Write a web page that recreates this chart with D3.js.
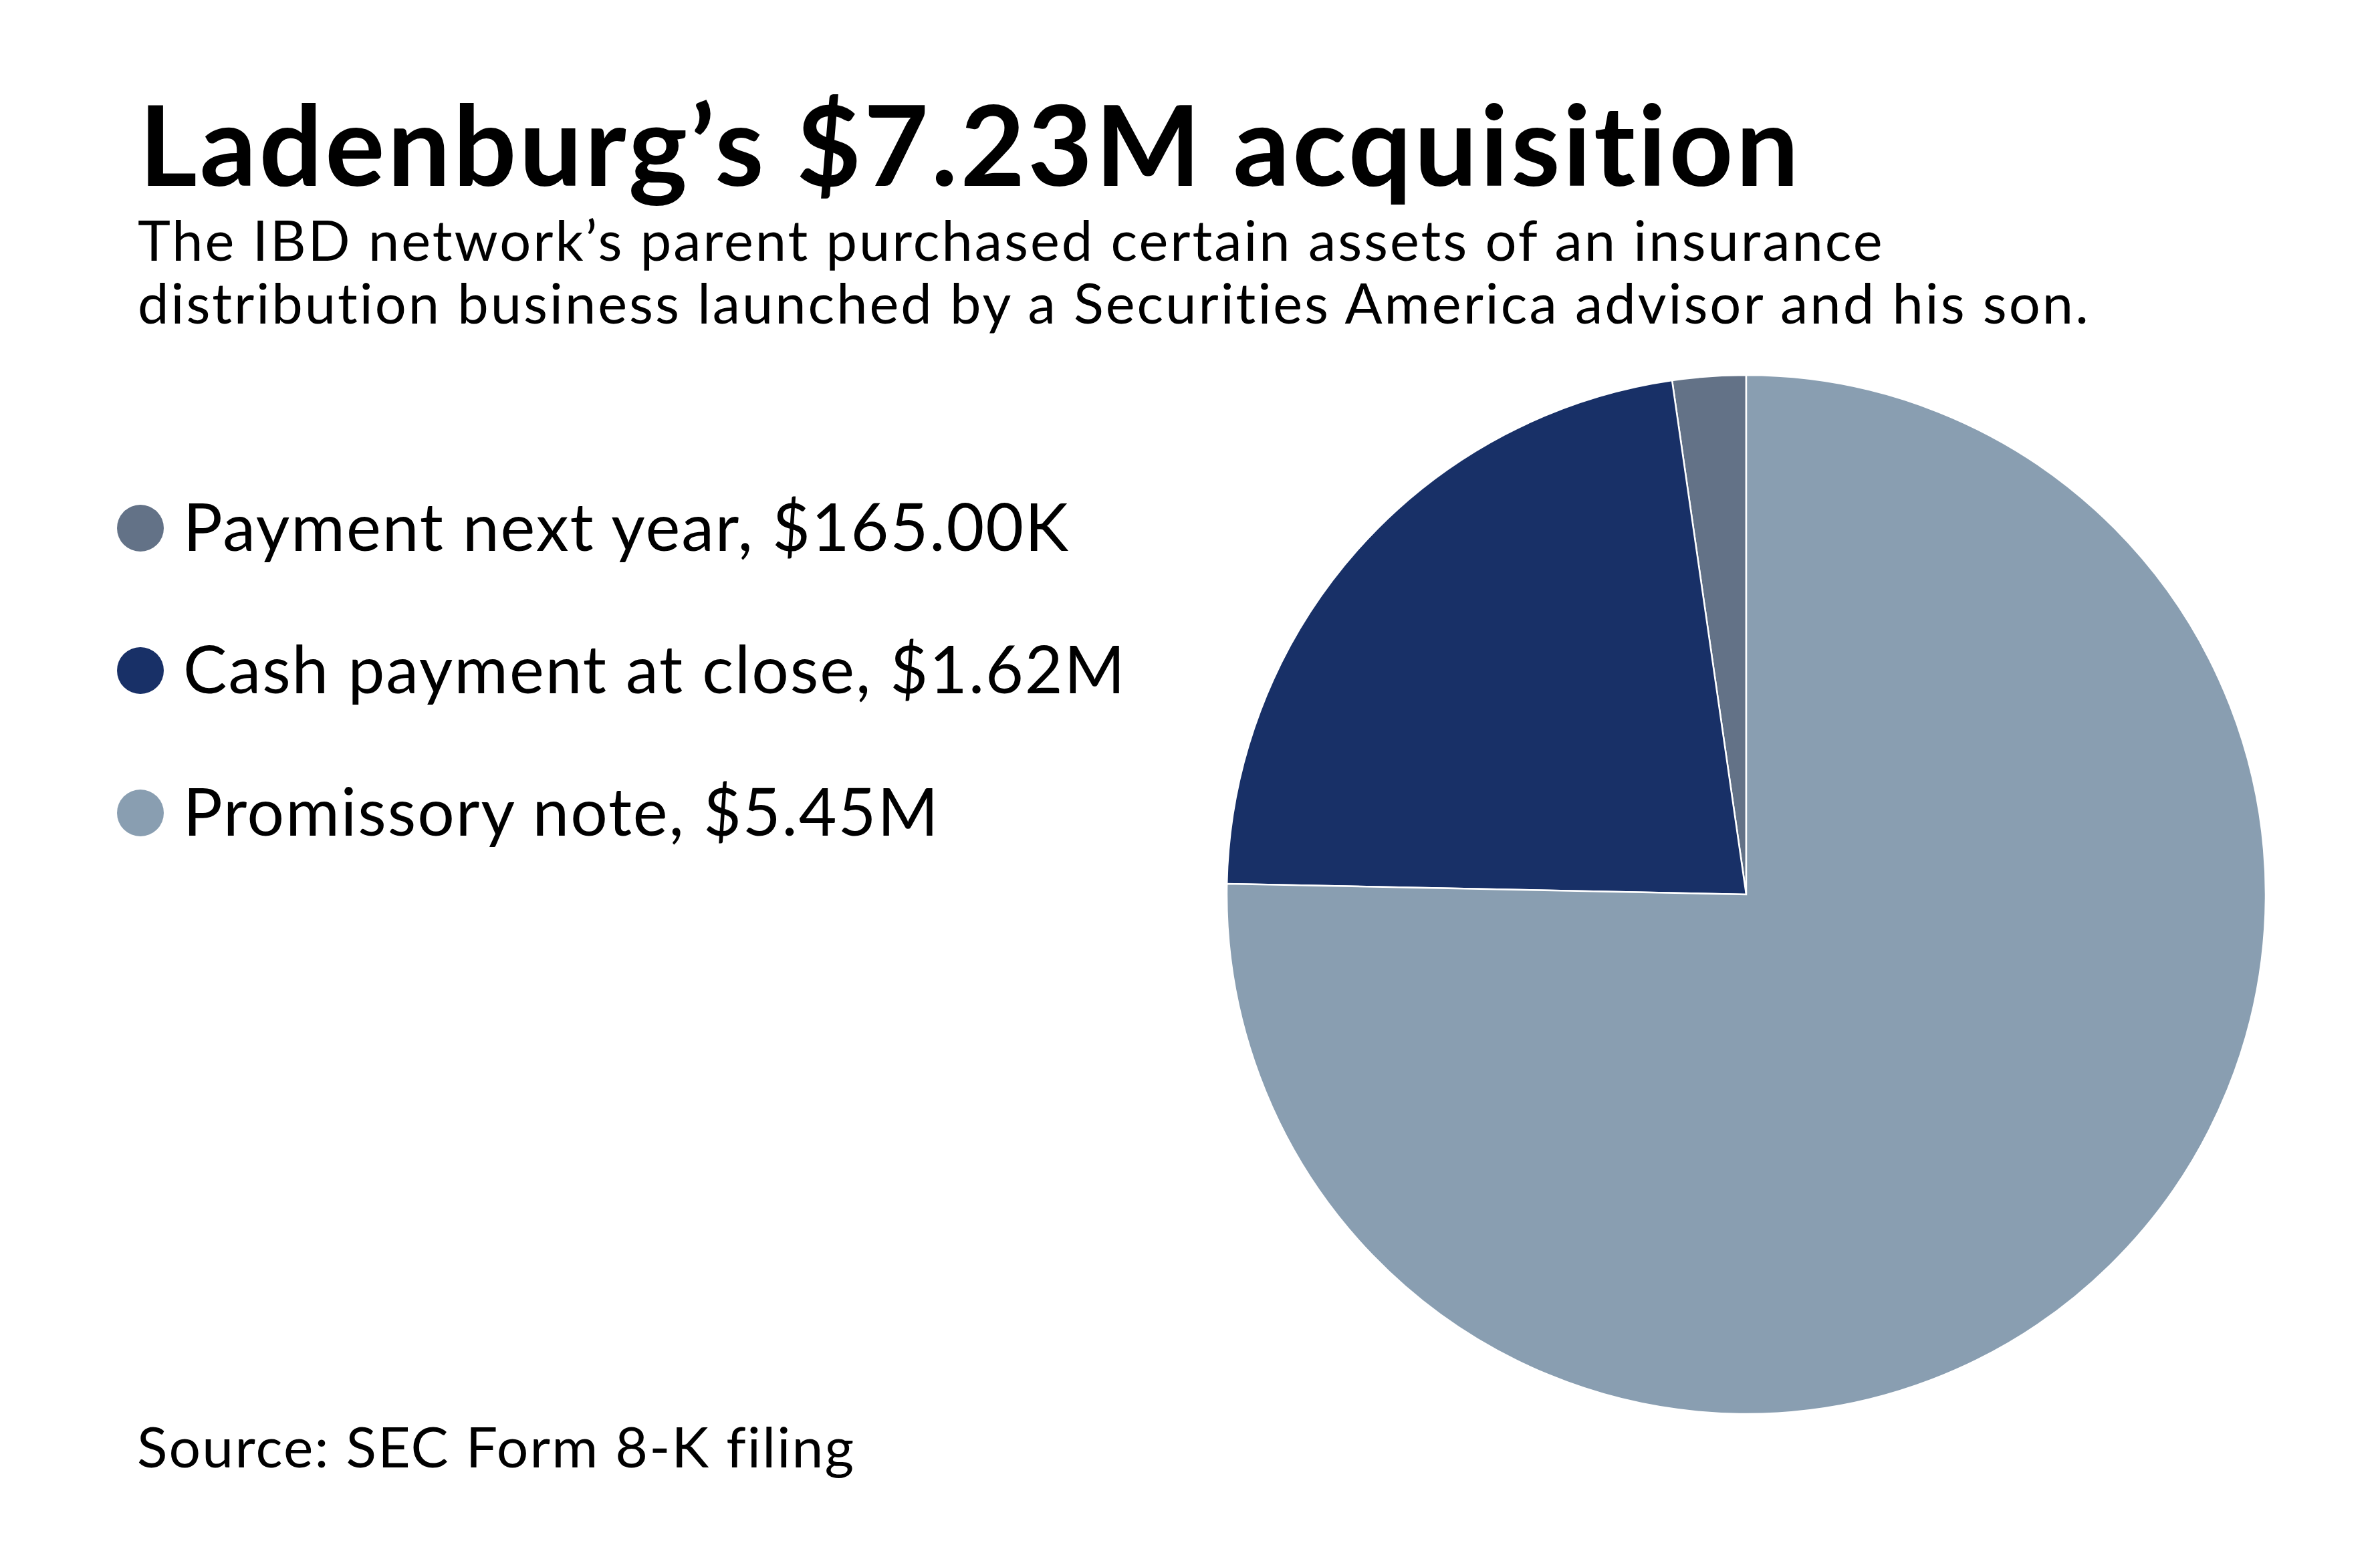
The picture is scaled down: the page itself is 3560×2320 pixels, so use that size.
<!DOCTYPE html>
<html>
<head>
<meta charset="utf-8">
<script src="https://cdn.jsdelivr.net/npm/d3@7"></script>
<style>
  html, body { margin: 0; padding: 0; background: #fff; }
  svg { display: block; font-family: Lato, "Open Sans", sans-serif; }
</style>
</head>
<body>
<div id="chart"></div>
<script>
var categories = ["Payment next year", "Cash payment at close", "Promissory note"];
var values = [0.165, 1.62, 5.45];            // $ millions
var valueLabels = ["$165.00K", "$1.62M", "$5.45M"];
var colors = ["#637287", "#183067", "#899eb1"];

var title = "Ladenburg\u2019s $7.23M acquisition";
var subtitle = [
    "The IBD network\u2019s parent purchased certain assets of an insurance",
    "distribution business launched by a Securities America advisor and his son."
];
var source = "Source: SEC Form 8-K filing";

var width = 3560, height = 2320;

var svg = d3.select("#chart").append("svg")
    .attr("width", width)
    .attr("height", height);

svg.append("text")
    .attr("x", 208)
    .attr("y", 278)
    .attr("font-size", 167)
    .attr("font-weight", 700)
    .attr("letter-spacing", 4)
    .attr("fill", "#000")
    .text(title);

svg.selectAll(".sub")
    .data(subtitle)
    .enter()
    .append("text")
    .attr("class", "sub")
    .attr("x", 206)
    .attr("y", (d, i) => 390 + i * 94)
    .attr("font-size", 83)
    .attr("letter-spacing", 3)
    .attr("fill", "#000")
    .text(d => d);

// legend
var legend = svg.selectAll(".legend")
    .data(categories)
    .enter()
    .append("g")
    .attr("class", "legend")
    .attr("transform", (d, i) => "translate(0," + (790 + i * 213) + ")");

legend.append("circle")
    .attr("cx", 210)
    .attr("cy", 0)
    .attr("r", 35)
    .attr("fill", (d, i) => colors[i]);

legend.append("text")
    .attr("x", 274)
    .attr("y", 34)
    .attr("font-size", 98)
    .attr("letter-spacing", 2)
    .attr("fill", "#000")
    .text((d, i) => d + ", " + valueLabels[i]);

svg.append("text")
    .attr("x", 205)
    .attr("y", 2195)
    .attr("font-size", 84)
    .attr("letter-spacing", 2.2)
    .attr("fill", "#000")
    .text(source);

// pie, drawn anticlockwise from 12 o'clock so the largest slice runs clockwise
var cx = 2612, cy = 1338, radius = 777;

var pie = d3.pie()
    .sort(null)
    .startAngle(2 * Math.PI)
    .endAngle(0)
    .value(d => d);

var arc = d3.arc()
    .innerRadius(0)
    .outerRadius(radius);

var g = svg.append("g")
    .attr("transform", "translate(" + cx + "," + cy + ")");

g.selectAll(".slice")
    .data(pie(values))
    .enter()
    .append("path")
    .attr("class", "slice")
    .attr("d", arc)
    .attr("fill", (d, i) => colors[i])
    .attr("stroke", "#fff")
    .attr("stroke-width", 2.5);
</script>
</body>
</html>
